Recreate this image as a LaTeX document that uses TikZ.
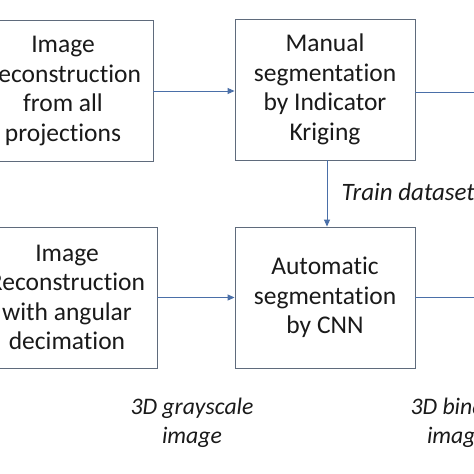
\documentclass[tikz,border=0pt]{standalone}
\usepackage{fontspec}
\setmainfont{Carlito}[Ligatures={NoCommon,NoContextual}]
\usetikzlibrary{arrows.meta}
\definecolor{boxline}{HTML}{5F6B7C}
\definecolor{arrowc}{HTML}{4A6FA8}
\definecolor{txt}{HTML}{1A1A1A}
\tikzset{
  stagebox/.style={draw=boxline, line width=0.9pt, fill=white, minimum width=180pt, minimum height=141pt, inner sep=0pt, align=center, text=txt, font=\fontsize{25.5}{29.5}\selectfont},
  conn/.style={draw=arrowc, line width=0.9pt, -{Triangle[length=7pt,width=6pt]}},
  plainconn/.style={draw=arrowc, line width=0.9pt},
  lbl/.style={text=txt, align=center, inner sep=0pt, font=\fontsize{23.7}{29}\selectfont\itshape}
}
\begin{document}
\begin{tikzpicture}[x=1pt,y=-1pt]
\useasboundingbox (0,0) rectangle (474,474);
\clip (0,0) rectangle (474,474);
\fill[white] (0,0) rectangle (474,474);
\node[stagebox] (b1) at (63,91) {Image\\Reconstruction\\from all\\projections};
\node[stagebox] (b2) at (325,89.5) {Manual\\segmentation\\by Indicator\\Kriging};
\node[stagebox] (b3) at (67,297.5) {Image\\Reconstruction\\with angular\\decimation};
\node[stagebox] (b4) at (325,297.5) {Automatic\\segmentation\\by CNN};
\coordinate (r1) at (480,92.5);
\coordinate (r2) at (480,297.7);
\draw[conn] (b1.east) -- (b1.east -| b2.west);
\draw[conn] (b3.east) -- (b3.east -| b4.west);
\draw[conn] ([xshift=2pt]b2.south) -- ([xshift=2pt]b4.north);
\draw[plainconn] (r1 -| b2.east) -- (r1);
\draw[plainconn] (r2 -| b4.east) -- (r2);
\node[lbl, anchor=base west, font=\fontsize{25}{30}\selectfont\itshape] (t1) at (341.5,200) {Train dataset};
\node[lbl, anchor=base] (t2) at (192,443) {3D grayscale\\image};
\node[lbl, anchor=base] (t3) at (457,443) {3D binary\\image};
\end{tikzpicture}
\end{document}
